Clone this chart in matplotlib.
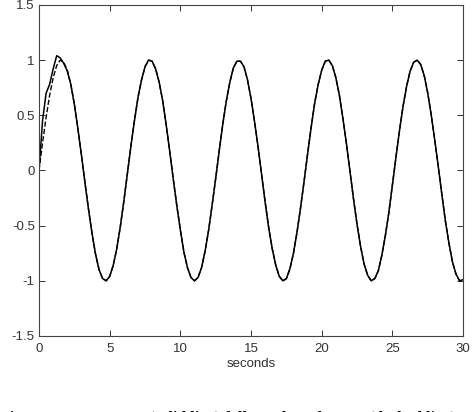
import numpy as np
import matplotlib
matplotlib.use("Agg")
import matplotlib.pyplot as plt

plt.rcParams['font.family'] = ['Liberation Sans', 'DejaVu Sans']

# time axis (seconds), sampled every 0.25 s
t = np.arange(0, 30.01, 0.25)

# reference signal (dashed line)
reference = [
    0.00, 0.25, 0.48, 0.68, 0.84, 0.95, 1.00, 0.98, 0.91, 0.78, 0.60, 0.38, 0.14,
    -0.11, -0.35, -0.57, -0.76, -0.90, -0.98, -1.00, -0.96, -0.86, -0.71, -0.51, -0.28,
    -0.03, 0.22, 0.45, 0.66, 0.82, 0.94, 1.00, 0.99, 0.92, 0.80, 0.63, 0.41, 0.17,
    -0.08, -0.32, -0.54, -0.74, -0.88, -0.97, -1.00, -0.97, -0.88, -0.73, -0.54, -0.31,
    -0.07, 0.18, 0.42, 0.63, 0.80, 0.93, 0.99, 0.99, 0.94, 0.82, 0.65, 0.44, 0.21,
    -0.04, -0.29, -0.52, -0.71, -0.86, -0.96, -1.00, -0.98, -0.89, -0.75, -0.56, -0.34,
    -0.10, 0.15, 0.39, 0.61, 0.78, 0.91, 0.99, 1.00, 0.95, 0.84, 0.68, 0.47, 0.24,
    -0.01, -0.26, -0.49, -0.69, -0.85, -0.95, -1.00, -0.98, -0.91, -0.77, -0.59, -0.38,
    -0.13, 0.12, 0.36, 0.58, 0.76, 0.90, 0.98, 1.00, 0.96, 0.86, 0.70, 0.50, 0.27,
    0.03, -0.22, -0.46, -0.66, -0.83, -0.94, -1.00, -0.99,
]

# system output: transient at the start, then it tracks the reference
output_start = [0.00, 0.45, 0.70, 0.78, 0.92, 1.04, 1.02, 0.97, 0.90]
output = output_start + reference[len(output_start):]

fig = plt.figure(figsize=(4.74, 4.12), dpi=100)
ax = fig.add_axes([0.0823, 0.1845, 0.8947, 0.8035])

ax.plot(t, reference, 'k--', lw=1.0)
ax.plot(t, output, 'k-', lw=1.1)

ax.set_xlim(0, 30)
ax.set_ylim(-1.5, 1.5)
ax.set_xticks([0, 5, 10, 15, 20, 25, 30])
ax.set_yticks([-1.5, -1, -0.5, 0, 0.5, 1, 1.5])
ax.set_yticklabels(['-1.5', '-1', '-0.5', '0', '0.5', '1', '1.5'])
ax.tick_params(direction='in', top=True, right=True, length=4, width=0.7,
               labelsize=9.5, colors='#333333', labelcolor='#333333')
ax.tick_params(axis='x', pad=5)
ax.tick_params(axis='y', pad=3)
for s in ax.spines.values():
    s.set_linewidth(0.8)
    s.set_color('#444444')
ax.set_xlabel('seconds', fontsize=9.5, color='#333333', labelpad=2)

fig.text(0.0, -0.026, 'Fig. 4. System output (solid line) follows the reference (dashed line)',
         family='Liberation Serif', fontsize=11.5, fontweight='bold', va='baseline')

fig.savefig('out.png', dpi=100)
